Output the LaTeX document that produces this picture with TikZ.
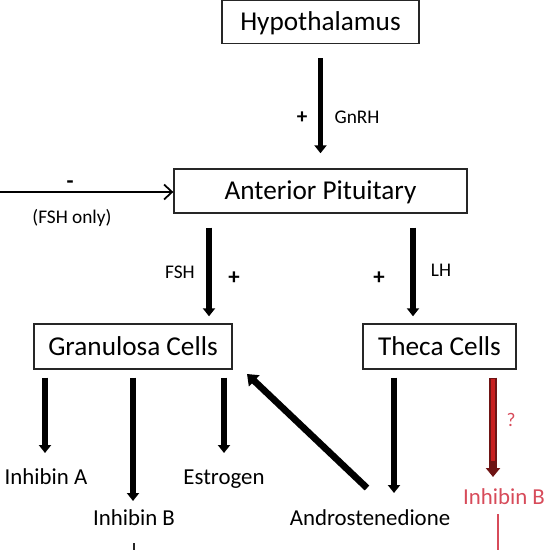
\documentclass[tikz,border=0pt]{standalone}
\usepackage{fontspec}
\setmainfont{Carlito}
\usetikzlibrary{arrows.meta}
\definecolor{redfill}{RGB}{200,30,30}
\definecolor{redline}{RGB}{110,20,20}
\definecolor{pinktext}{RGB}{215,75,90}
\begin{document}
\begin{tikzpicture}[x=0.02cm,y=-0.02cm,
 box/.style={draw=black!85, line width=0.8pt, minimum height=0.9cm, inner sep=0pt, text height=1.2em, text depth=0.2em, font=\fontsize{15.5}{18}\selectfont},
 lbl/.style={inner sep=0pt, text height=1.0em, text depth=0.15em, font=\fontsize{13}{15}\selectfont},
 sml/.style={inner sep=0pt, text height=1.0em, text depth=0.15em, font=\fontsize{11}{13}\selectfont},
 sign/.style={inner sep=0pt, text height=1.0em, text depth=0.15em, font=\fontsize{13}{15}\selectfont\bfseries},
 big/.style={line width=3.1pt, -{Triangle[width=0.24cm,length=0.16cm]}},
]
\useasboundingbox (0,0) rectangle (550,550);
% boxes
\node[box, minimum width=3.94cm, minimum height=0.86cm] (hyp) at (320.5,22) {Hypothalamus};
\node[box, minimum width=5.86cm, minimum height=0.88cm] (ap) at (320.5,191) {Anterior Pituitary};
\node[box, minimum width=3.96cm] (gran) at (133,346.5) {Granulosa Cells};
\node[box, minimum width=3.06cm] (theca) at (439.5,346.5) {Theca Cells};
% labels
\node[sign, font=\fontsize{12}{14}\selectfont\bfseries] (plus1) at (302,116) {+};
\node[sml] (gnrh) at (357,116) {GnRH};
\node[sign] (minus) at (70,181) {-};
\node[sml] (fsho) at (72,216) {(FSH only)};
\node[sml] (fshl) at (180,271) {FSH};
\node[sign] (plus2) at (234,277) {+};
\node[sign] (plus3) at (379,277) {+};
\node[sml] (lhl) at (441,269) {LH};
\node[lbl] (inhA) at (46,477) {Inhibin A};
\node[lbl] (inhB) at (134,518) {Inhibin B};
\node[lbl] (estr) at (224,477) {Estrogen};
\node[lbl] (andro) at (370,518) {Androstenedione};
\node[lbl, text=pinktext] (inhBr) at (504,497) {Inhibin B};
\node[sml, text=pinktext] (q) at (511,419) {?};
% coordinates
\coordinate (lst) at (0,192);
\coordinate (xF) at (209,0);
\coordinate (xL) at (413,0);
\coordinate (e1) at (45,453);
\coordinate (e2) at (133,501);
\coordinate (e3) at (224,453);
\coordinate (e4) at (394,493);
\coordinate (e5) at (493,477);
\coordinate (d1) at (367,488);
\coordinate (d2) at (247,374);
\coordinate (b1) at (134,550);
\coordinate (r1) at (498,550);
% connectors
\draw[line width=1pt, -{Straight Barb[length=0.16cm,width=0.3cm]}] (lst) -- (ap.west |- lst);
\draw[big, shorten <=0.28cm, shorten >=0.3cm] (hyp) -- (ap);
\draw[big, shorten <=0.28cm, shorten >=0.14cm] (ap.south -| xF) -- (gran.north -| xF);
\draw[big, shorten <=0.28cm, shorten >=0.14cm] (ap.south -| xL) -- (theca.north -| xL);
\draw[big, shorten <=0.16cm] (gran.south -| e1) -- (e1);
\draw[big, shorten <=0.16cm] (gran.south -| e2) -- (e2);
\draw[big, shorten <=0.16cm] (gran.south -| e3) -- (e3);
\draw[big, shorten <=0.16cm] (theca.south -| e4) -- (e4);
\draw[line width=3.8pt, -{Triangle[width=0.3cm,length=0.2cm]}] (d1) -- (d2);
\draw[line width=4.4pt, redline, -{Triangle[width=0.28cm,length=0.18cm]}, shorten <=0.16cm] (theca.south -| e5) -- (e5);
\draw[line width=2.8pt, redfill, shorten <=0.19cm, shorten >=0.32cm] (theca.south -| e5) -- (e5);
\draw[line width=0.9pt, black!85, shorten <=0.3cm] (inhB.south) -- (b1);
\draw[line width=1pt, pinktext, shorten <=0.14cm] (inhBr.south -| r1) -- (r1);
\end{tikzpicture}
\end{document}
